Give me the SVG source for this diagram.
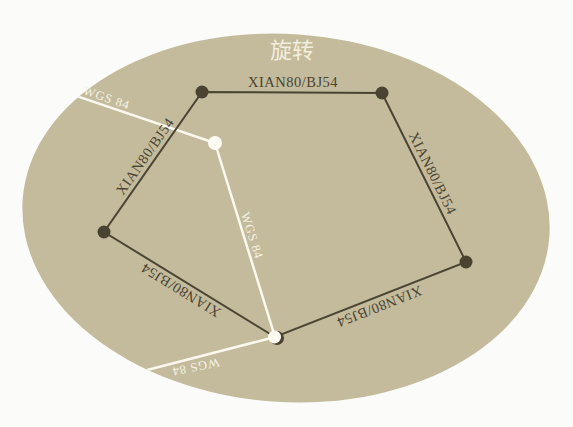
<svg xmlns="http://www.w3.org/2000/svg" width="573" height="427" viewBox="0 0 573 427">
  <style>
    .edge { stroke: #4b4433; stroke-width: 2; fill: none; stroke-linecap: round; }
    .wline { stroke: #fbf8ee; stroke-width: 2.5; fill: none; stroke-linecap: round; }
    .lbl { font-family: "Liberation Serif", "Times New Roman", serif; font-size: 14.5px; fill: #4b4433; text-anchor: middle; letter-spacing: 0.5px; }
    .wlbl { font-family: "Liberation Serif", "Times New Roman", serif; font-size: 12.5px; fill: #f6f2e4; text-anchor: middle; letter-spacing: 0.8px; }
    .dark { fill: #4a4332; }
    .white { fill: #fdfbf4; }
    .title { font-family: "Noto Sans CJK SC", "Noto Sans", sans-serif; font-size: 22px; fill: #f3eedd; text-anchor: middle; }
  </style>
  <defs>
    <clipPath id="oval">
      <ellipse cx="286" cy="218" rx="264" ry="184" transform="rotate(4 286 218)"/>
    </clipPath>
  </defs>
  <rect width="573" height="427" fill="#fbfbf9"/>
  <g id="background">
    <ellipse cx="286" cy="218" rx="264" ry="184" fill="#c3bb9c" transform="rotate(4 286 218)"/>
  </g>
  <g id="title">
    <text class="title" x="292" y="58">旋转</text>
  </g>
  <g id="connectors">
    <polyline class="wline" clip-path="url(#oval)" points="0,70 215,143 275,337 0,408"/>
    <polygon class="edge" points="202,92 382,93 466,262 275,337 104,232"/>
  </g>
  <g id="edge-labels">
    <text class="lbl" x="293" y="87">XIAN80/BJ54</text>
    <text class="lbl" transform="translate(153,162) rotate(-55)" x="0" y="-5">XIAN80/BJ54</text>
    <text class="lbl" transform="translate(424,177.5) rotate(63.6)" x="0" y="-5">XIAN80/BJ54</text>
    <text class="lbl" transform="translate(376,297.4) rotate(158.6)" x="0" y="-5">XIAN80/BJ54</text>
    <text class="lbl" transform="translate(186,282) rotate(211.6)" x="0" y="-5">XIAN80/BJ54</text>
    <text class="wlbl" transform="translate(104,105.5) rotate(18.7)" x="0" y="-4">WGS 84</text>
    <text class="wlbl" transform="translate(244.4,238) rotate(72.8)" x="0" y="-4">WGS 84</text>
    <text class="wlbl" transform="translate(194,359) rotate(168)" x="0" y="-4">WGS 84</text>
  </g>
  <g id="node-a"><circle class="dark" cx="202" cy="92" r="6.5"/></g>
  <g id="node-b"><circle class="dark" cx="382" cy="93" r="6.5"/></g>
  <g id="node-c"><circle class="dark" cx="466" cy="262" r="6.5"/></g>
  <g id="node-d"><circle class="dark" cx="104" cy="232" r="6.5"/></g>
  <g id="node-e">
    <circle class="dark" cx="277" cy="338" r="7"/>
    <circle class="white" cx="274.5" cy="337" r="6.5"/>
  </g>
  <g id="node-f"><circle class="white" cx="215" cy="143" r="7"/></g>
</svg>
